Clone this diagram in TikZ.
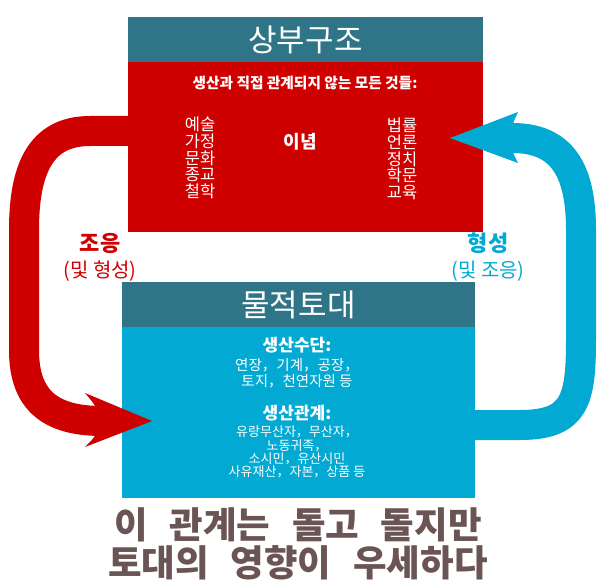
\documentclass[tikz,border=0pt]{standalone}
\usepackage{fontspec}
\setmainfont{Noto Sans CJK KR}
\newfontfamily\mottofont[WordSpace=2.6]{Noto Sans CJK KR}
\definecolor{headteal}{HTML}{2F7487}
\definecolor{suprred}{HTML}{CF0000}
\definecolor{basecyan}{HTML}{02A9D2}
\definecolor{mottobrown}{HTML}{6B5454}
\tikzset{
  headbox/.style={fill=headteal, text=white, minimum height=45pt, inner sep=0pt, font=\fontsize{31}{32}\selectfont},
  bodybox/.style={minimum height=170pt, inner sep=0pt},
  note/.style={text=white, font=\bfseries\fontsize{14.7}{16}\selectfont},
  column/.style={text=white, align=center, font=\fontsize{16.5}{16.8}\selectfont},
  small/.style={text=white, align=center, font=\fontsize{14.5}{16}\selectfont},
  tiny/.style={text=white, align=center, font=\fontsize{13}{13.2}\selectfont},
  shaft/.style={line width=30pt},
  lab/.style={font=\bfseries\fontsize{22}{24}\selectfont},
  sublab/.style={font=\fontsize{20}{22}\selectfont}
}
\begin{document}
\begin{tikzpicture}[x=1pt,y=-1pt]
\useasboundingbox (0,0) rectangle (600,588);
\node[headbox, minimum width=355pt] (suphead) at (305.5,39.5) {상부구조};
\node[bodybox, fill=suprred, minimum width=355pt] (supbody) at (305.5,147) {};
\node[headbox, minimum width=353pt] (basehead) at (298.5,304.5) {물적토대};
\node[bodybox, fill=basecyan, minimum width=353pt, minimum height=171pt] (basebody) at (298.5,412.5) {};
\node[note] (supnote) at (305,83) {생산과 직접 관계되지 않는 모든 것들:};
\node[column] (artcol) at (200,158) {예술\\가정\\문화\\종교\\철학};
\node[column, font=\bfseries\fontsize{18}{20}\selectfont] (ideology) at (300,142) {이념};
\node[column] (lawcol) at (402,159) {법률\\언론\\정치\\학문\\교육};
\node[note, font=\bfseries\fontsize{17}{19}\selectfont] (meansnote) at (297,345) {생산수단:};
\node[small] (means) at (297,373) {연장，기계，공장，\\토지，천연자원 등};
\node[note, font=\bfseries\fontsize{17}{19}\selectfont] (relnote) at (297,413) {생산관계:};
\node[tiny] (rel) at (297,452) {유랑무산자，무산자，\\노동귀족，\\소시민，유산시민\\사유재산，자본，상품 등};
\draw[shaft, suprred] ([yshift=16pt]supbody.west) -- (90,131) .. controls (40,131) and (24,170) .. (24,230) -- (24,350) .. controls (24,400) and (50,421) .. (102,421);
\fill[suprred] (152,421) -- (85,393) .. controls (96,406) .. (100,421) .. controls (96,436) .. (85,447) -- cycle;
\draw[shaft, basecyan] ([yshift=-12.5pt]basebody.east) -- (520,425) .. controls (575,425) and (581,400) .. (581,340) -- (581,230) .. controls (581,170) and (562,138) .. (512,138);
\fill[basecyan] (450,138) -- (518,112) .. controls (512,125) .. (512,138) .. controls (512,151) .. (518,163) -- cycle;
\node[lab, text=suprred] (respond) at (100,243) {조응};
\node[sublab, text=suprred] (respondsub) at (100,271) {(및 형성)};
\node[lab, text=basecyan] (shape) at (488,243) {형성};
\node[sublab, text=basecyan] (shapesub) at (488,271) {(및 조응)};
\node[text=mottobrown, align=center, font=\mottofont\bfseries\fontsize{36.5}{38}\selectfont] (motto) at (298,544) {이 관계는 돌고 돌지만\\토대의 영향이 우세하다};
\end{tikzpicture}
\end{document}
